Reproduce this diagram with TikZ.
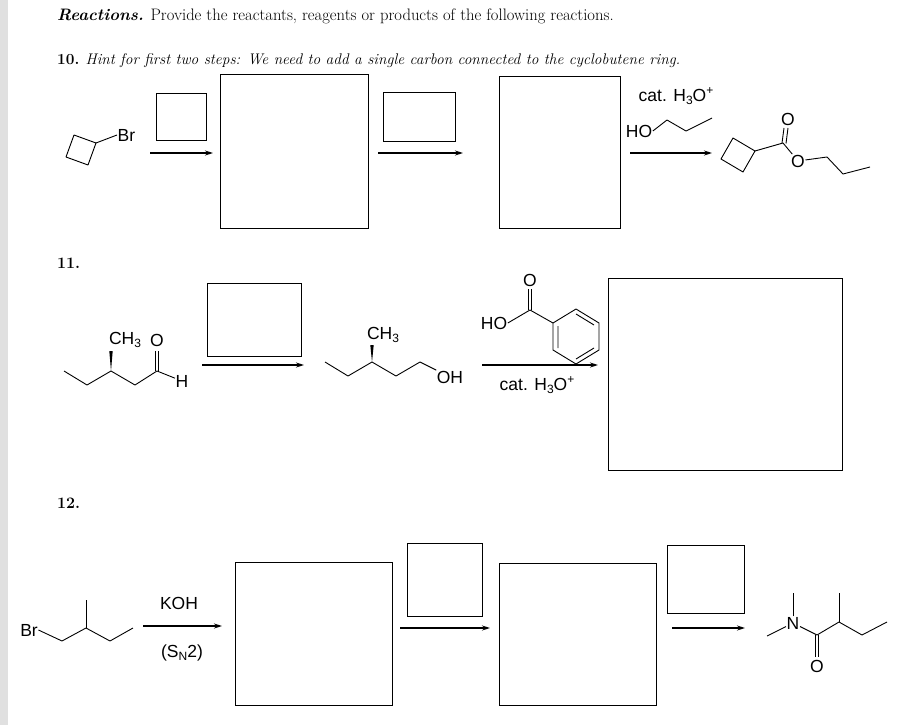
\documentclass[tikz,border=0pt]{standalone}
\usepackage{fontspec}
\newfontfamily\chem{Liberation Sans}
\usetikzlibrary{arrows.meta}
\newcommand{\sbs}[1]{\raisebox{-0.35ex}{\fontsize{12}{12}\selectfont #1}}
\newcommand{\sps}[1]{\raisebox{0.75ex}{\fontsize{12}{12}\selectfont #1}}
\begin{document}
\begin{tikzpicture}[x=1pt,y=-1pt,
  bond/.style={line width=0.9pt,line join=round},
  box/.style={draw,line width=1pt},
  rxn/.style={line width=1.2pt,-{Stealth[length=8pt,width=5pt]}},
  lab/.style={font=\chem\fontsize{17.5}{18}\selectfont,inner sep=0.5pt},
  txt/.style={font=\fontsize{16}{17}\selectfont,anchor=west,inner sep=0}]
\useasboundingbox (0,0) rectangle (897,725);
\fill[white] (0,0) rectangle (897,725);
\fill[black!12] (0,0) rectangle (8,725);
\node[txt,font=\fontsize{16.6}{17}\selectfont] (title) at (57,16) {\textbf{\textit{Reactions.}} Provide the reactants, reagents or products of the following reactions.};
\node[txt,font=\fontsize{15.4}{16}\selectfont] (q10) at (57,61) {\textbf{10.} \textit{Hint for first two steps: We need to add a single carbon connected to the cyclobutene ring.}};
\node[txt] (q11) at (57,263) {\textbf{11.}};
\node[txt] (q12) at (57,503) {\textbf{12.}};
% ---- row 10
\draw[bond] (74,135) -- (96,143) -- (88,165) -- (66,157) -- cycle;
\node[lab,anchor=west] (br1) at (117,135) {Br};
\draw[bond] (96,143) -- (br1.west);
\node[box,minimum width=50,minimum height=47] (b1) at (181,116.5) {};
\node[box,minimum width=148,minimum height=153] (b2) at (294,151.5) {};
\node[box,minimum width=72,minimum height=49] (b3) at (419,116.5) {};
\node[box,minimum width=121,minimum height=151] (b4) at (559.5,152.5) {};
\coordinate (a1s) at (150,153); \coordinate (a1e) at (213,153);
\coordinate (a2s) at (378,153); \coordinate (a2e) at (463,153);
\coordinate (a3s) at (630,153); \coordinate (a3e) at (712,153);
\draw[rxn] (a1s) -- (a1e); \draw[rxn] (a2s) -- (a2e); \draw[rxn] (a3s) -- (a3e);
\node[lab] (cat1) at (676,96) {cat. H\sbs{3}O\sps{+}};
\node[lab] (ho1) at (639,131) {HO};
\draw[bond] (ho1.east) -- (667,120) -- (686,131) -- (712,118);
\draw[bond] (733,138) -- (755,151) -- (743,172) -- (721,159) -- cycle;
\node[lab] (o1) at (788,119) {O};
\node[lab] (o2) at (798,161) {O};
\draw[bond] (755,151) -- (783,143) -- (o2);
\draw[bond] (782,143) -- (784,128);
\draw[bond] (786,143.5) -- (788,128);
\draw[bond] (o2) -- (827,157) -- (843,174) -- (870,167);
% ---- row 11
\node[lab] (ch3a) at (125,340) {CH\sbs{3}};
\node[lab] (oa) at (157,340) {O};
\node[lab] (ha) at (182,381) {H};
\draw[bond] (64,371) -- (87,385) -- (111,371) -- (135,385) -- (157,371) -- (ha);
\fill (111,371) -- (109.3,351) -- (112.7,351) -- cycle;
\draw[bond] (155.5,371) -- (155.5,351);
\draw[bond] (158.5,371) -- (158.5,351);
\node[box,minimum width=94,minimum height=73] (b5) at (254,319.5) {};
\coordinate (a4s) at (202,365); \coordinate (a4e) at (304,365);
\draw[rxn] (a4s) -- (a4e);
\node[lab] (ch3b) at (383,335) {CH\sbs{3}};
\node[lab] (oh1) at (450,377) {OH};
\draw[bond] (325,362) -- (348,376) -- (372,362) -- (396,376) -- (420,362) -- (oh1);
\fill (372,362) -- (370.3,345) -- (373.7,345) -- cycle;
\coordinate (a5s) at (482,365); \coordinate (a5e) at (598,365);
\draw[rxn] (a5s) -- (a5e);
\node[lab] (cat2) at (537,385) {cat. H\sbs{3}O\sps{+}};
\node[lab] (hob) at (494,323) {HO};
\node[lab] (ob) at (530,280) {O};
\draw[bond] (hob.east) -- (530,310) -- (553,323);
\draw[bond] (528.5,310) -- (528.5,289); \draw[bond] (531.5,310) -- (531.5,289);
\draw[bond] (553,323) -- (576,309) -- (599,323) -- (599,350) -- (576,364) -- (553,350) -- cycle;
\draw[bond] (576,314) -- (594,325) (594,348) -- (576,359) (558,348) -- (558,326);
\node[box,minimum width=234,minimum height=192] (b6) at (725,374) {};
% ---- row 12
\node[lab] (br2) at (29,630) {Br};
\draw[bond] (br2.east) -- (62,641) -- (86,628) -- (110,641) -- (133,628);
\draw[bond] (86,628) -- (86,600);
\coordinate (a6s) at (143,626); \coordinate (a6e) at (222,626);
\draw[rxn] (a6s) -- (a6e);
\node[lab] (koh) at (179,603) {KOH};
\node[lab] (sn2) at (182,653) {(S\sbs{N}2)};
\node[box,minimum width=157,minimum height=143] (b7) at (313.5,633.5) {};
\node[box,minimum width=75,minimum height=73] (b8) at (444.5,579.5) {};
\node[box,minimum width=157,minimum height=142] (b9) at (577.5,634) {};
\node[box,minimum width=77,minimum height=68] (b10) at (705.5,579) {};
\coordinate (a7s) at (400,628); \coordinate (a7e) at (490,628);
\coordinate (a8s) at (672,628); \coordinate (a8e) at (745,628);
\draw[rxn] (a7s) -- (a7e); \draw[rxn] (a8s) -- (a8e);
\node[lab] (n1) at (793,623) {N};
\node[lab] (oc) at (817,666) {O};
\draw[bond] (n1) -- (793,593);
\draw[bond] (n1) -- (767,636);
\draw[bond] (n1) -- (817,635) -- (839,622) -- (862,635) -- (887,622);
\draw[bond] (839,622) -- (839,593);
\draw[bond] (815.5,635) -- (815.5,657); \draw[bond] (818.5,635) -- (818.5,657);
\end{tikzpicture}
\end{document}
